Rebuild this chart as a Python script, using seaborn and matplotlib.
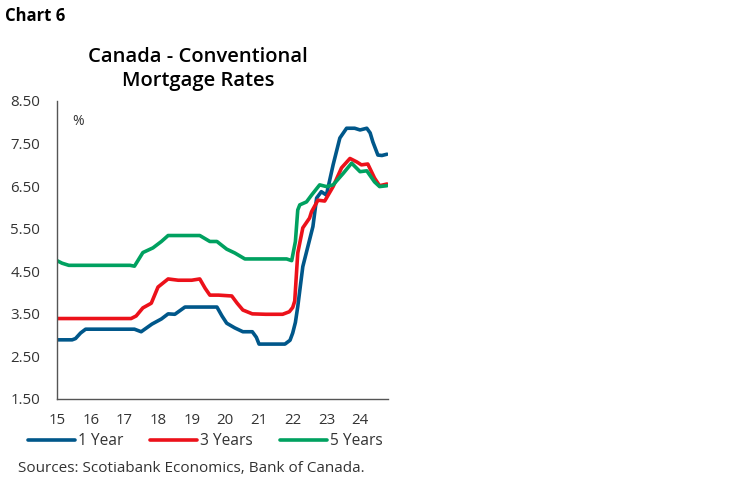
import matplotlib
matplotlib.use("Agg")
import matplotlib.pyplot as plt
import seaborn as sns
import pandas as pd
from matplotlib.lines import Line2D

# ---- data ----
one_year_x = [15.0, 15.45, 15.55, 15.7, 15.85, 16.5, 17.0, 17.3, 17.5, 17.82, 18.1, 18.3, 18.5,
              18.8, 19.0, 19.5, 19.75, 19.9, 20.04, 20.28, 20.52, 20.8, 20.92, 21.0, 21.5,
              21.77, 21.92, 22.0, 22.08, 22.15, 22.3, 22.45, 22.6, 22.71, 22.85, 23.0, 23.2,
              23.4, 23.6, 23.84, 24.0, 24.2, 24.3, 24.38, 24.53, 24.65, 24.8]
one_year_v = [2.89, 2.89, 2.92, 3.05, 3.14, 3.14, 3.14, 3.14, 3.08, 3.26, 3.38, 3.50, 3.49,
              3.66, 3.66, 3.66, 3.66, 3.45, 3.28, 3.17, 3.08, 3.08, 2.95, 2.79, 2.79,
              2.79, 2.88, 3.05, 3.30, 3.67, 4.61, 5.08, 5.55, 6.22, 6.37, 6.29, 7.00,
              7.63, 7.86, 7.86, 7.82, 7.86, 7.75, 7.54, 7.23, 7.22, 7.25]

three_year_x = [15.0, 16.0, 17.0, 17.2, 17.35, 17.55, 17.8, 18.0, 18.3, 18.6, 19.0, 19.24,
                19.4, 19.54, 19.8, 20.19, 20.35, 20.52, 20.8, 21.2, 21.7, 21.9, 22.0,
                22.06, 22.15, 22.3, 22.5, 22.56, 22.75, 22.95, 23.2, 23.45, 23.7, 23.9,
                24.04, 24.23, 24.43, 24.58, 24.8]
three_year_v = [3.39, 3.39, 3.39, 3.39, 3.45, 3.64, 3.75, 4.13, 4.32, 4.29, 4.29, 4.32,
                4.10, 3.94, 3.94, 3.92, 3.75, 3.59, 3.50, 3.49, 3.49, 3.55, 3.65,
                3.80, 4.93, 5.52, 5.75, 5.90, 6.17, 6.15, 6.49, 6.93, 7.15, 7.07,
                7.00, 7.02, 6.69, 6.51, 6.55]

five_year_x = [15.0, 15.15, 15.35, 16.0, 17.0, 17.17, 17.3, 17.55, 17.85, 18.1, 18.3, 18.6,
               19.0, 19.24, 19.54, 19.75, 20.04, 20.28, 20.58, 21.0, 21.5, 21.82, 21.97,
               22.08, 22.15, 22.21, 22.41, 22.56, 22.8, 23.0, 23.2, 23.5, 23.75, 24.0,
               24.2, 24.43, 24.58, 24.8]
five_year_v = [4.75, 4.69, 4.64, 4.64, 4.64, 4.64, 4.62, 4.94, 5.05, 5.20, 5.34, 5.34,
               5.34, 5.34, 5.20, 5.20, 5.02, 4.93, 4.79, 4.79, 4.79, 4.79, 4.75,
               5.20, 5.94, 6.06, 6.13, 6.29, 6.53, 6.49, 6.53, 6.80, 7.04, 6.84,
               6.86, 6.60, 6.49, 6.51]

series_names = ["1 Year", "3 Years", "5 Years"]
x_ticks = [15, 16, 17, 18, 19, 20, 21, 22, 23, 24]
y_ticks = [1.5, 2.5, 3.5, 4.5, 5.5, 6.5, 7.5, 8.5]

colors = {"1 Year": "#00578a", "3 Years": "#ec111a", "5 Years": "#00a160"}

df = pd.concat([
    pd.DataFrame({"year": one_year_x, "rate": one_year_v, "series": series_names[0]}),
    pd.DataFrame({"year": three_year_x, "rate": three_year_v, "series": series_names[1]}),
    pd.DataFrame({"year": five_year_x, "rate": five_year_v, "series": series_names[2]}),
], ignore_index=True)

sns.set_style("white")
plt.rcParams["font.family"] = ["Open Sans", "DejaVu Sans"]

fig = plt.figure(figsize=(7.49, 4.82), dpi=100)
ax = fig.add_axes([57 / 749, 1 - 399 / 482, 331 / 749, 298 / 482])

sns.lineplot(data=df, x="year", y="rate", hue="series", palette=colors,
             linewidth=2.6, ax=ax, legend=False, sort=False, estimator=None)

ax.set_xlim(15, 24.83)
ax.set_ylim(1.5, 8.5)
ax.set_xticks(x_ticks)
ax.set_xticklabels([str(t) for t in x_ticks])
ax.set_yticks(y_ticks)
ax.set_yticklabels([f"{t:.2f}" for t in y_ticks])
ax.set_xlabel("")
ax.set_ylabel("")

for s in ["top", "right"]:
    ax.spines[s].set_visible(False)
for s in ["left", "bottom"]:
    ax.spines[s].set_color("#555555")
    ax.spines[s].set_linewidth(1.0)

ax.tick_params(axis="y", direction="in", length=4, color="#555555",
               labelsize=10.8, labelcolor="#333333", pad=12)
ax.tick_params(axis="x", direction="out", length=4, color="#555555",
               labelsize=10.8, labelcolor="#333333", pad=6)

ax.text(0.045, 0.93, "%", transform=ax.transAxes, fontsize=10, color="#333333",
        ha="left", va="center")

fig.text(5 / 749, 1 - 16 / 482, "Chart 6", fontsize=12, fontweight="bold",
         ha="left", va="center", color="black")
fig.text(198 / 749, 1 - 69 / 482, "Canada - Conventional\nMortgage Rates",
         fontsize=14.5, fontweight="semibold", ha="center", va="center",
         linespacing=1.3, color="black")

handles = [Line2D([0], [0], color=colors[n], linewidth=2.6) for n in series_names]
fig.legend(handles, series_names, loc="center left",
           bbox_to_anchor=(28 / 749, 1 - 441 / 482), ncol=3, frameon=False,
           fontsize=11.2, handlelength=3.0, handletextpad=0.2, columnspacing=1.75,
           labelcolor="#333333", borderaxespad=0, borderpad=0)

fig.text(18 / 749, 1 - 469 / 482, "Sources: Scotiabank Economics, Bank of Canada.",
         fontsize=11, ha="left", va="center", color="#333333")

fig.savefig("out.png", dpi=100)
